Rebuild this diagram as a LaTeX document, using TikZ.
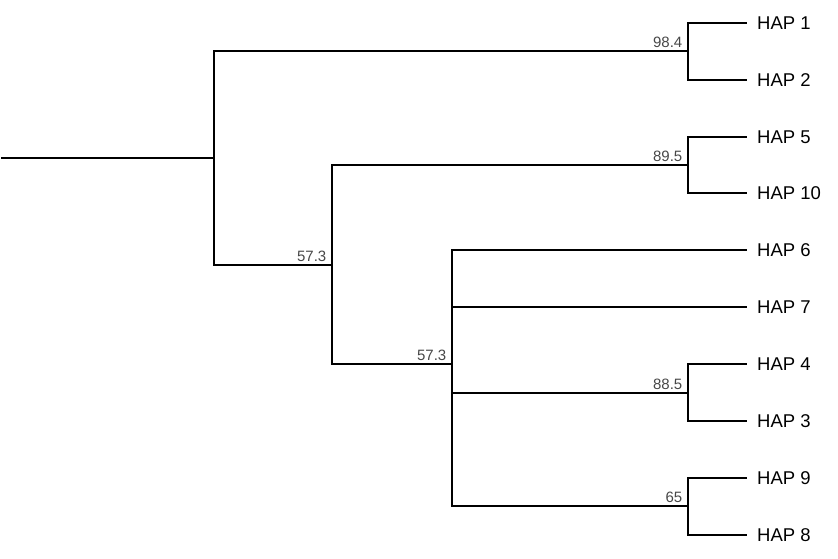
\documentclass[tikz,border=0pt]{standalone}
\usepackage{fontspec}
\setmainfont{Liberation Sans}
\begin{document}
\begin{tikzpicture}[x=1pt,y=1pt,
  branch/.style={line width=2pt, line join=miter, black},
  leaflabel/.style={anchor=west, inner sep=0pt, font=\fontsize{18.5}{19}\selectfont},
  support/.style={anchor=base east, inner sep=0pt, text=black!72, font=\fontsize{15}{16}\selectfont}]
\useasboundingbox (0,0) rectangle (838,-558);
% internal nodes
\coordinate (r0) at (1,-158);
\coordinate (r) at (214,-158);
\coordinate (n12) at (688,-51);
\coordinate (nA) at (332,-265);
\coordinate (n510) at (688,-165);
\coordinate (nB) at (452,-364);
\coordinate (n43) at (688,-393);
\coordinate (n98) at (688,-506);
% leaf tips
\coordinate (t1) at (747,-23);
\coordinate (t2) at (747,-80);
\coordinate (t5) at (747,-137);
\coordinate (t10) at (747,-193);
\coordinate (t6) at (747,-250);
\coordinate (t7) at (747,-307);
\coordinate (t4) at (747,-364);
\coordinate (t3) at (747,-421);
\coordinate (t9) at (747,-478);
\coordinate (t8) at (747,-535);
% branches
\draw[branch] (r0) -- (r);
\draw[branch] (r) |- (n12);
\draw[branch] (r) |- (nA);
\draw[branch] (n12) |- (t1);
\draw[branch] (n12) |- (t2);
\draw[branch] (nA) |- (n510);
\draw[branch] (nA) |- (nB);
\draw[branch] (n510) |- (t5);
\draw[branch] (n510) |- (t10);
\draw[branch] (nB) |- (t6);
\draw[branch] (nB) |- (t7);
\draw[branch] (nB) |- (n43);
\draw[branch] (nB) |- (n98);
\draw[branch] (n43) |- (t4);
\draw[branch] (n43) |- (t3);
\draw[branch] (n98) |- (t9);
\draw[branch] (n98) |- (t8);
% leaf labels
\node[leaflabel] (h1) at ([xshift=10pt]t1) {HAP 1};
\node[leaflabel] (h2) at ([xshift=10pt]t2) {HAP 2};
\node[leaflabel] (h5) at ([xshift=10pt]t5) {HAP 5};
\node[leaflabel] (h10) at ([xshift=10pt]t10) {HAP 10};
\node[leaflabel] (h6) at ([xshift=10pt]t6) {HAP 6};
\node[leaflabel] (h7) at ([xshift=10pt]t7) {HAP 7};
\node[leaflabel] (h4) at ([xshift=10pt]t4) {HAP 4};
\node[leaflabel] (h3) at ([xshift=10pt]t3) {HAP 3};
\node[leaflabel] (h9) at ([xshift=10pt]t9) {HAP 9};
\node[leaflabel] (h8) at ([xshift=10pt]t8) {HAP 8};
% support values
\node[support] (s12) at ([xshift=-5.5pt,yshift=4pt]n12) {98.4};
\node[support] (s510) at ([xshift=-5.5pt,yshift=4pt]n510) {89.5};
\node[support] (sA) at ([xshift=-5.5pt,yshift=4pt]nA) {57.3};
\node[support] (sB) at ([xshift=-5.5pt,yshift=4pt]nB) {57.3};
\node[support] (s43) at ([xshift=-5.5pt,yshift=4pt]n43) {88.5};
\node[support] (s98) at ([xshift=-5.5pt,yshift=4pt]n98) {65};
\end{tikzpicture}
\end{document}
